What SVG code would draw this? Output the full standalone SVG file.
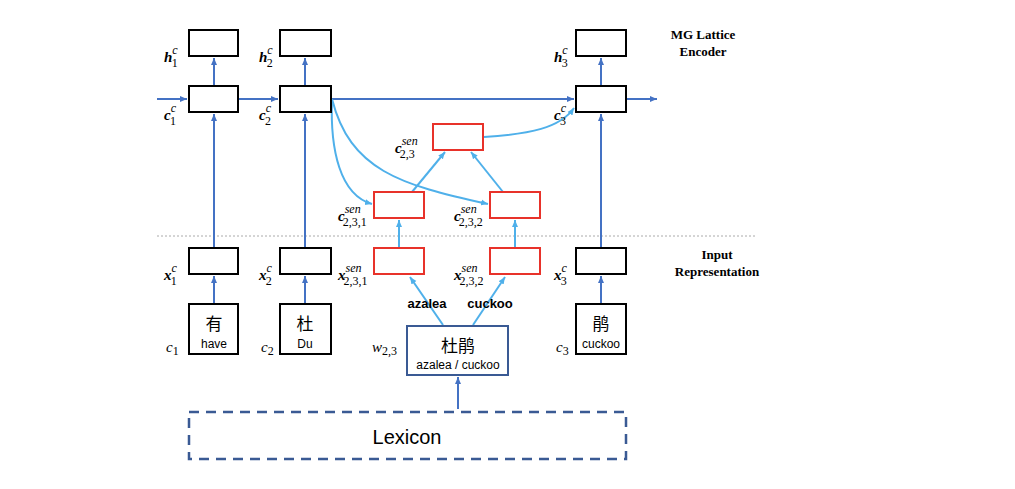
<svg xmlns="http://www.w3.org/2000/svg" width="1015" height="489" viewBox="0 0 1015 489">
<defs>
<marker id="ab" markerWidth="8" markerHeight="8" refX="7" refY="4" orient="auto" markerUnits="userSpaceOnUse"><path d="M0,1 L7,4 L0,7 z" fill="#4472c4"/></marker>
<marker id="al" markerWidth="8" markerHeight="8" refX="7" refY="4" orient="auto" markerUnits="userSpaceOnUse"><path d="M0,1 L7,4 L0,7 z" fill="#4fb0ea"/></marker>
</defs>
<style>
.k{fill:#fff;stroke:#000;stroke-width:2}
.r{fill:#fff;stroke:#e8322a;stroke-width:2}
.b{fill:none;stroke:#4472c4;stroke-width:2}
.l{fill:none;stroke:#4fb0ea;stroke-width:2}
.m{font-family:"Liberation Serif",serif;font-style:italic;font-weight:bold;font-size:15px}
.s{font-family:"Liberation Serif",serif;font-style:normal;font-weight:normal;font-size:12px}
.su{font-family:"Liberation Serif",serif;font-style:italic;font-weight:normal;font-size:12px}
.t{font-family:"Liberation Serif",serif;font-weight:bold;font-size:13px}
.ch{font-family:"Noto Sans CJK SC",sans-serif;font-size:17px;text-anchor:middle}
.en{font-family:"Liberation Sans",sans-serif;font-size:12px;text-anchor:middle}
</style>
<rect width="1015" height="489" fill="#fff"/>
<line x1="157" y1="236" x2="755" y2="236" stroke="#aaa" stroke-dasharray="2,2"/>
<g id="connectors">
<path class="b" d="M157,99 H187" marker-end="url(#ab)"/>
<path class="b" d="M239,99 H278" marker-end="url(#ab)"/>
<path class="b" d="M331,99 H574" marker-end="url(#ab)"/>
<path class="b" d="M626,99 H657" marker-end="url(#ab)"/>
<path class="b" d="M214,86 V58" marker-end="url(#ab)"/>
<path class="b" d="M305,86 V58" marker-end="url(#ab)"/>
<path class="b" d="M601,86 V58" marker-end="url(#ab)"/>
<path class="b" d="M214,248 V114" marker-end="url(#ab)"/>
<path class="b" d="M305,248 V114" marker-end="url(#ab)"/>
<path class="b" d="M601,248 V114" marker-end="url(#ab)"/>
<path class="b" d="M214,304 V276" marker-end="url(#ab)"/>
<path class="b" d="M305,304 V276" marker-end="url(#ab)"/>
<path class="b" d="M601,304 V276" marker-end="url(#ab)"/>
<path class="b" d="M458,409 V377" marker-end="url(#ab)"/>
<path class="l" d="M399,248 V220" marker-end="url(#al)"/>
<path class="l" d="M515,248 V220" marker-end="url(#al)"/>
<path class="l" d="M443,325 L410,277" marker-end="url(#al)"/>
<path class="l" d="M473,325 L505,277" marker-end="url(#al)"/>
<path class="l" d="M412,192 L445,152" marker-end="url(#al)"/>
<path class="l" d="M503,192 L471,152" marker-end="url(#al)"/>
<path class="l" d="M332,99 C330,150 340,195 372,204" marker-end="url(#al)"/>
<path class="l" d="M332,99 C350,170 400,185 488,204" marker-end="url(#al)"/>
<path class="l" d="M484,137 C530,134 560,128 574,108" marker-end="url(#al)"/>
</g>
<g id="h1"><rect class="k" x="189" y="30" width="49" height="26"/><text class="m" x="164" y="62">h<tspan class="su" dy="-8">c</tspan><tspan class="s" dx="-6" dy="13">1</tspan></text></g>
<g id="h2"><rect class="k" x="280" y="30" width="51" height="26"/><text class="m" x="259" y="62">h<tspan class="su" dy="-8">c</tspan><tspan class="s" dx="-6" dy="13">2</tspan></text></g>
<g id="h3"><rect class="k" x="576" y="30" width="50" height="26"/><text class="m" x="554" y="62">h<tspan class="su" dy="-8">c</tspan><tspan class="s" dx="-6" dy="13">3</tspan></text></g>
<g id="c1"><rect class="k" x="189" y="86" width="49" height="26"/><text class="m" x="164" y="120">c<tspan class="su" dy="-8">c</tspan><tspan class="s" dx="-6" dy="13">1</tspan></text></g>
<g id="c2"><rect class="k" x="280" y="86" width="51" height="26"/><text class="m" x="259" y="120">c<tspan class="su" dy="-8">c</tspan><tspan class="s" dx="-6" dy="13">2</tspan></text></g>
<g id="c3"><rect class="k" x="576" y="86" width="50" height="26"/><text class="m" x="554" y="120">c<tspan class="su" dy="-8">c</tspan><tspan class="s" dx="-6" dy="13">3</tspan></text></g>
<g id="c23"><rect class="r" x="433" y="124" width="50" height="26"/><text class="m" x="395" y="153">c<tspan class="su" dy="-8">sen</tspan><tspan class="s" dx="-18" dy="13">2,3</tspan></text></g>
<g id="c231"><rect class="r" x="374" y="192" width="50" height="26"/><text class="m" x="338" y="221">c<tspan class="su" dy="-8">sen</tspan><tspan class="s" dx="-18" dy="13">2,3,1</tspan></text></g>
<g id="c232"><rect class="r" x="490" y="192" width="50" height="26"/><text class="m" x="454" y="221">c<tspan class="su" dy="-8">sen</tspan><tspan class="s" dx="-18" dy="13">2,3,2</tspan></text></g>
<g id="x1"><rect class="k" x="189" y="248" width="49" height="26"/><text class="m" x="164" y="280">x<tspan class="su" dy="-8">c</tspan><tspan class="s" dx="-6" dy="13">1</tspan></text></g>
<g id="x2"><rect class="k" x="280" y="248" width="51" height="26"/><text class="m" x="259" y="280">x<tspan class="su" dy="-8">c</tspan><tspan class="s" dx="-6" dy="13">2</tspan></text></g>
<g id="x3"><rect class="k" x="576" y="248" width="50" height="26"/><text class="m" x="554" y="280">x<tspan class="su" dy="-8">c</tspan><tspan class="s" dx="-6" dy="13">3</tspan></text></g>
<g id="x231"><rect class="r" x="374" y="248" width="50" height="26"/><text class="m" x="338" y="280">x<tspan class="su" dy="-8">sen</tspan><tspan class="s" dx="-18" dy="13">2,3,1</tspan></text></g>
<g id="x232"><rect class="r" x="490" y="248" width="50" height="26"/><text class="m" x="454" y="280">x<tspan class="su" dy="-8">sen</tspan><tspan class="s" dx="-18" dy="13">2,3,2</tspan></text></g>
<g id="ch1"><rect class="k" x="189" y="304" width="49" height="50"/><text class="ch" x="214" y="330">有</text><text class="en" x="214" y="348">have</text><text class="su" x="166" y="352" style="font-size:15px">c<tspan class="s" dy="3">1</tspan></text></g>
<g id="ch2"><rect class="k" x="280" y="304" width="51" height="50"/><text class="ch" x="305" y="330">杜</text><text class="en" x="305" y="348">Du</text><text class="su" x="261" y="352" style="font-size:15px">c<tspan class="s" dy="3">2</tspan></text></g>
<g id="ch3"><rect class="k" x="576" y="304" width="50" height="50"/><text class="ch" x="601" y="330">鹃</text><text class="en" x="601" y="348">cuckoo</text><text class="su" x="556" y="352" style="font-size:15px">c<tspan class="s" dy="3">3</tspan></text></g>
<g id="w23"><rect x="407" y="326" width="101" height="49" fill="#fff" stroke="#3a5a94" stroke-width="2"/><text class="ch" x="458" y="352">杜鹃</text><text class="en" x="458" y="369">azalea / cuckoo</text><text class="su" x="372" y="352" style="font-size:15px">w<tspan class="s" dy="3">2,3</tspan></text></g>
<g id="lexicon"><rect x="189" y="412" width="437" height="47" fill="#fff" stroke="#3a5a94" stroke-width="2.5" stroke-dasharray="10,7"/><text x="407" y="444" font-family="Liberation Sans,sans-serif" font-size="20" text-anchor="middle">Lexicon</text></g>
<text x="427" y="308" font-family="Liberation Sans,sans-serif" font-weight="bold" font-size="13" text-anchor="middle">azalea</text>
<text x="490" y="308" font-family="Liberation Sans,sans-serif" font-weight="bold" font-size="13" text-anchor="middle">cuckoo</text>
<text class="t" x="703" y="39" text-anchor="middle">MG Lattice</text>
<text class="t" x="703" y="56" text-anchor="middle">Encoder</text>
<text class="t" x="717" y="259" text-anchor="middle">Input</text>
<text class="t" x="717" y="276" text-anchor="middle">Representation</text>
</svg>
